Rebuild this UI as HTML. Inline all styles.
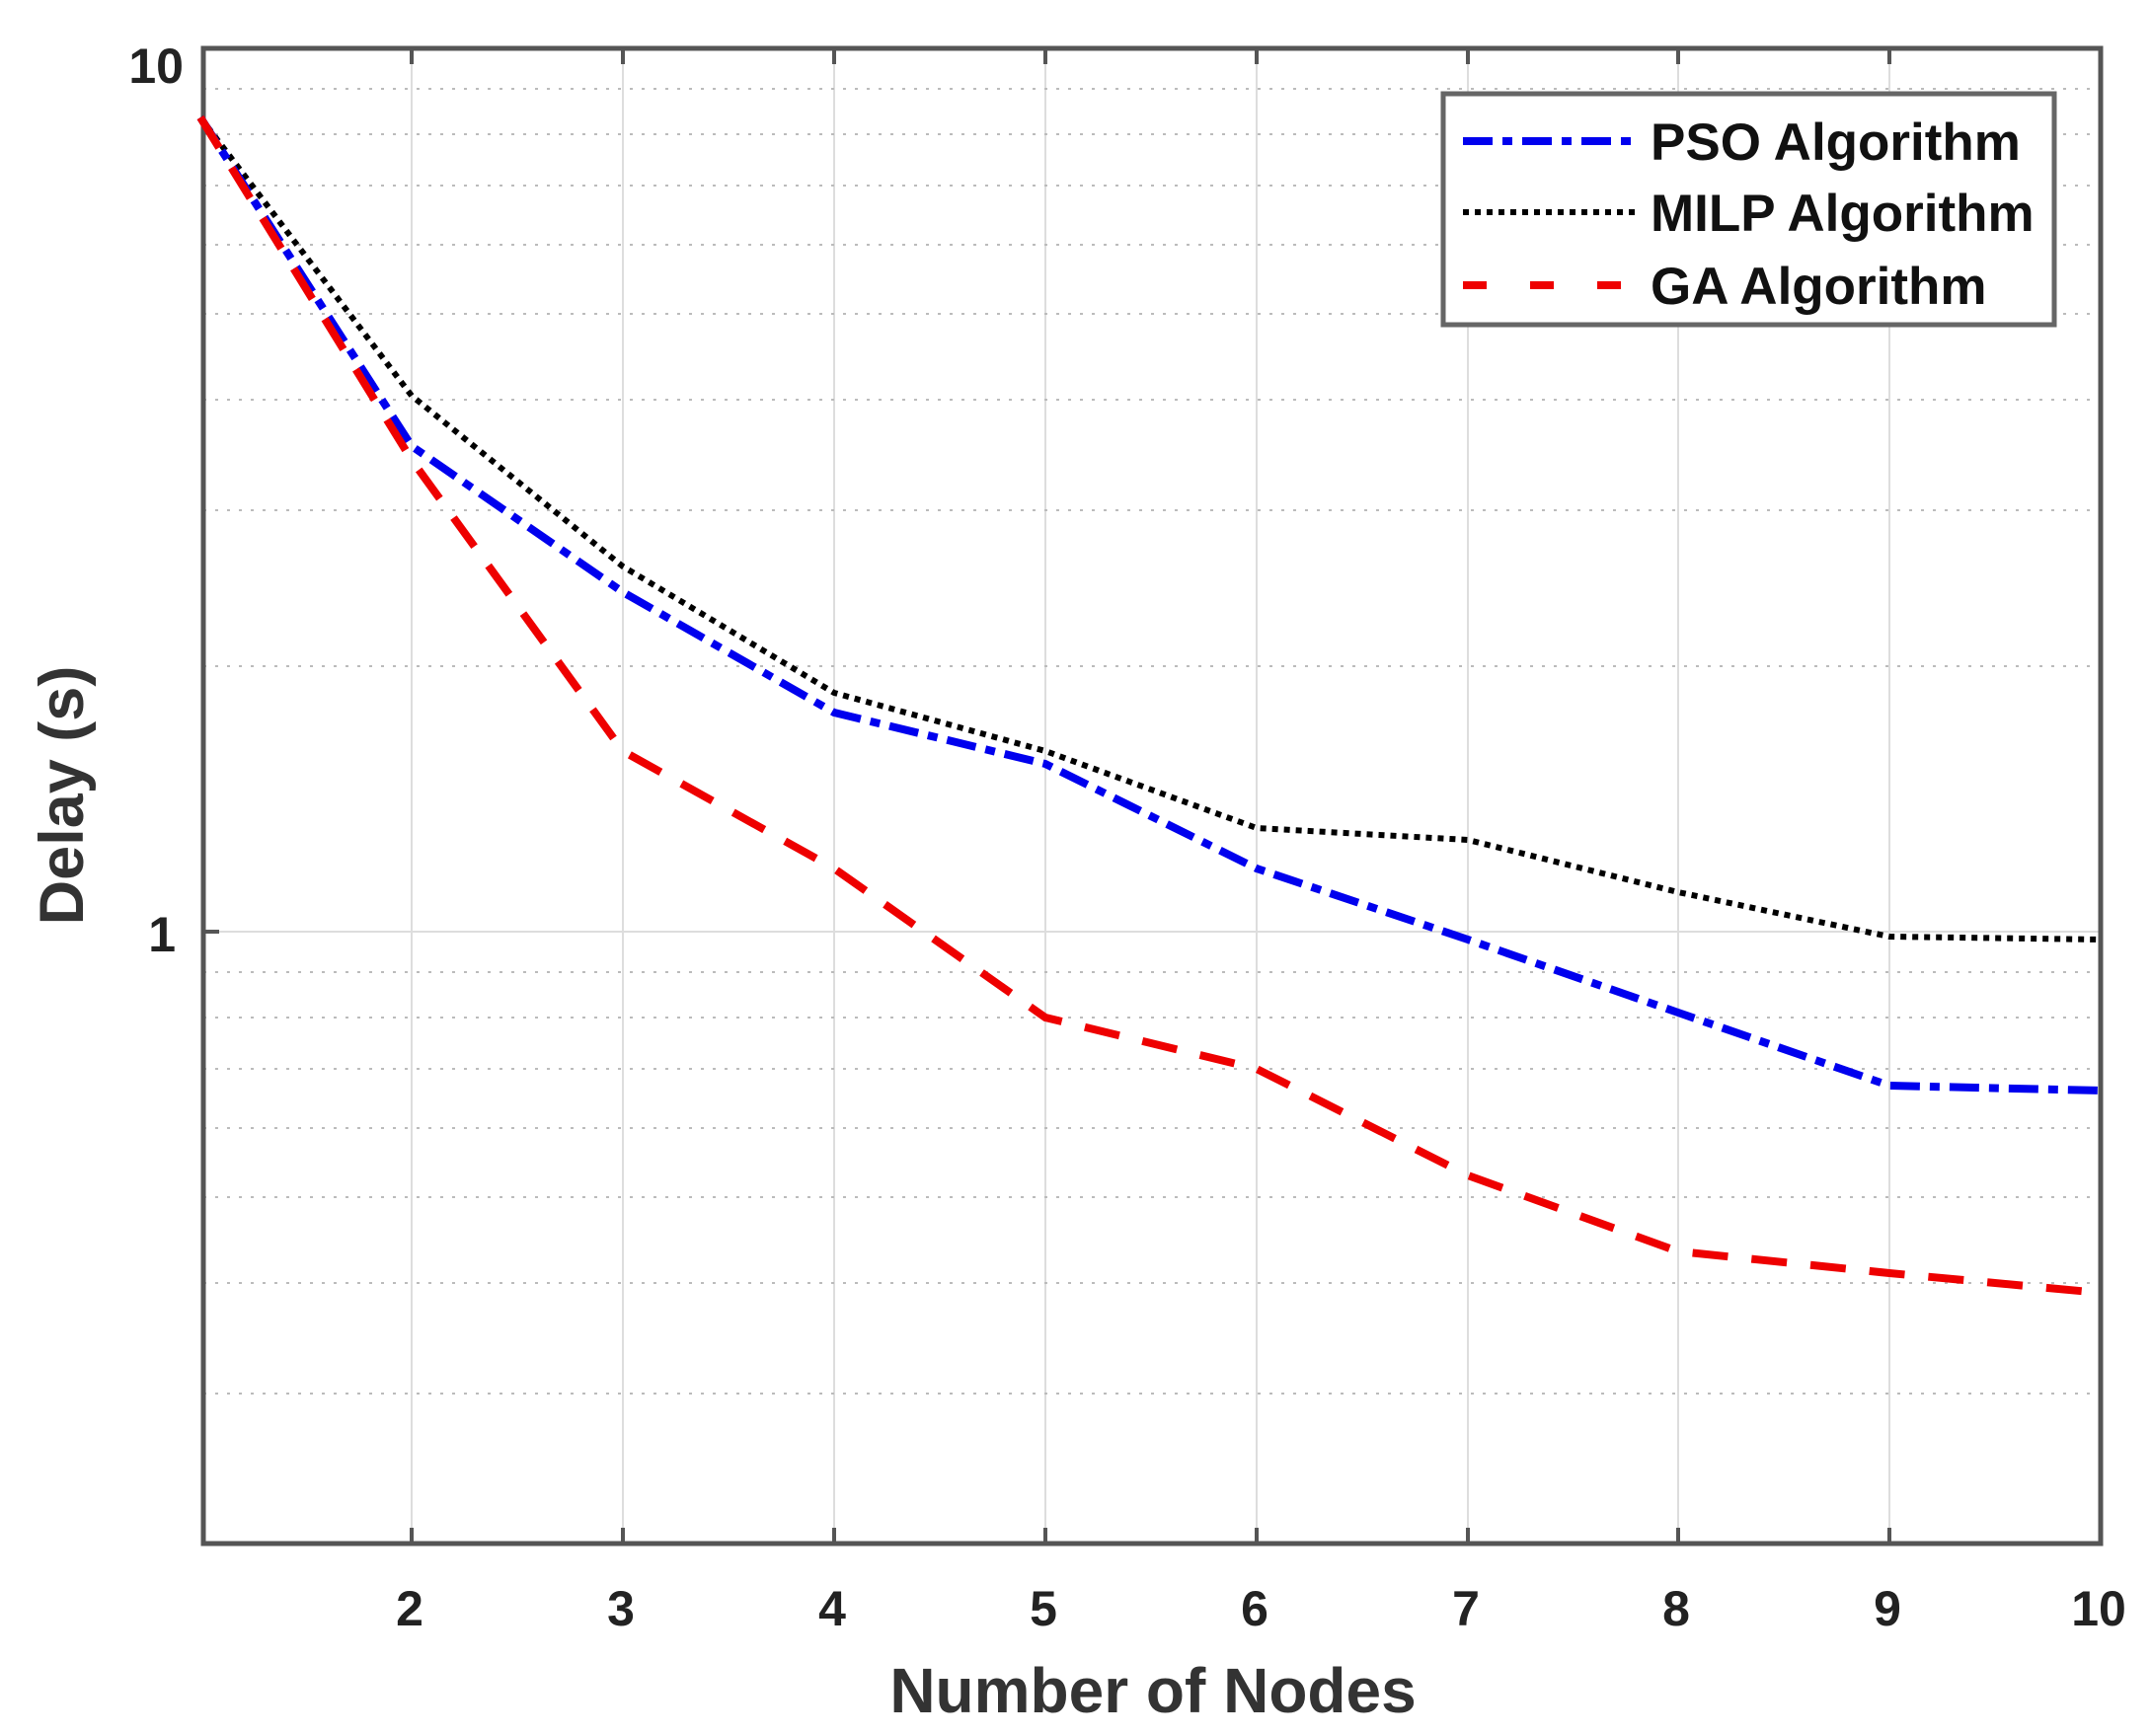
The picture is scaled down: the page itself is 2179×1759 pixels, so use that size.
<!DOCTYPE html>
<html><head><style>body{margin:0;background:#fff}svg{display:block}</style></head><body>
<svg width="2179" height="1759" viewBox="0 0 2179 1759" xmlns="http://www.w3.org/2000/svg" font-family="Liberation Sans, sans-serif" font-weight="bold">
<rect width="2179" height="1759" fill="#fff"/>
<g stroke="#ddd" stroke-width="2">
<line x1="417" y1="49" x2="417" y2="1564"/><line x1="631" y1="49" x2="631" y2="1564"/><line x1="845" y1="49" x2="845" y2="1564"/><line x1="1059" y1="49" x2="1059" y2="1564"/><line x1="1273" y1="49" x2="1273" y2="1564"/><line x1="1487" y1="49" x2="1487" y2="1564"/><line x1="1700" y1="49" x2="1700" y2="1564"/><line x1="1914" y1="49" x2="1914" y2="1564"/>
<line x1="206" y1="944" x2="2128" y2="944"/>
</g>
<g stroke="#bbb" stroke-width="2" stroke-dasharray="3 9">
<line x1="206" y1="90" x2="2128" y2="90"/><line x1="206" y1="136" x2="2128" y2="136"/><line x1="206" y1="188" x2="2128" y2="188"/><line x1="206" y1="248" x2="2128" y2="248"/><line x1="206" y1="318" x2="2128" y2="318"/><line x1="206" y1="405" x2="2128" y2="405"/><line x1="206" y1="517" x2="2128" y2="517"/><line x1="206" y1="675" x2="2128" y2="675"/>
<line x1="206" y1="985" x2="2128" y2="985"/><line x1="206" y1="1031" x2="2128" y2="1031"/><line x1="206" y1="1083" x2="2128" y2="1083"/><line x1="206" y1="1143" x2="2128" y2="1143"/><line x1="206" y1="1213" x2="2128" y2="1213"/><line x1="206" y1="1300" x2="2128" y2="1300"/><line x1="206" y1="1412" x2="2128" y2="1412"/>
</g>
<rect x="206" y="49" width="1922" height="1515" fill="none" stroke="#555" stroke-width="5"/>
<g stroke="#555" stroke-width="4">
<line x1="417" y1="1564" x2="417" y2="1548"/><line x1="631" y1="1564" x2="631" y2="1548"/><line x1="845" y1="1564" x2="845" y2="1548"/><line x1="1059" y1="1564" x2="1059" y2="1548"/><line x1="1273" y1="1564" x2="1273" y2="1548"/><line x1="1487" y1="1564" x2="1487" y2="1548"/><line x1="1700" y1="1564" x2="1700" y2="1548"/><line x1="1914" y1="1564" x2="1914" y2="1548"/>
<line x1="417" y1="49" x2="417" y2="65"/><line x1="631" y1="49" x2="631" y2="65"/><line x1="845" y1="49" x2="845" y2="65"/><line x1="1059" y1="49" x2="1059" y2="65"/><line x1="1273" y1="49" x2="1273" y2="65"/><line x1="1487" y1="49" x2="1487" y2="65"/><line x1="1700" y1="49" x2="1700" y2="65"/><line x1="1914" y1="49" x2="1914" y2="65"/>
<line x1="206" y1="944" x2="222" y2="944"/>
</g>
<polyline fill="none" stroke="#000" stroke-width="6" stroke-dasharray="6 6" points="203,119 417,401 631,574 845,702 1059,761 1273,839 1487,851 1700,904 1914,949 2128,952"/>
<polyline fill="none" stroke="#0000ee" stroke-width="8" stroke-dasharray="30 10 10 10" points="203,119 417,452 631,600 845,722 1059,774 1273,880 1487,952 1700,1026 1914,1100 2128,1105"/>
<polyline fill="none" stroke="#ee0000" stroke-width="8" stroke-dasharray="36 24" points="203,119 417,466 631,761 845,880 1059,1031 1273,1083 1487,1191 1700,1268 1914,1290 2128,1310"/>
<rect x="1462" y="95" width="619" height="234" fill="#fff" stroke="#666" stroke-width="5"/>
<line x1="1482" y1="143" x2="1658" y2="143" stroke="#0000ee" stroke-width="8" stroke-dasharray="30 10 10 10"/>
<line x1="1482" y1="215" x2="1658" y2="215" stroke="#000" stroke-width="6" stroke-dasharray="6 6"/>
<line x1="1482" y1="289" x2="1658" y2="289" stroke="#ee0000" stroke-width="8" stroke-dasharray="24 44"/>
<g font-size="53" fill="#111">
<text x="1672" y="162">PSO Algorithm</text>
<text x="1672" y="234">MILP Algorithm</text>
<text x="1672" y="308">GA Algorithm</text>
</g>
<g font-size="50" fill="#222" text-anchor="middle">
<text x="415" y="1647">2</text><text x="629" y="1647">3</text><text x="843" y="1647">4</text><text x="1057" y="1647">5</text><text x="1271" y="1647">6</text><text x="1485" y="1647">7</text><text x="1698" y="1647">8</text><text x="1912" y="1647">9</text><text x="2126" y="1647">10</text>
</g>
<g font-size="50" fill="#222" text-anchor="end">
<text x="186" y="84">10</text><text x="178" y="964">1</text>
</g>
<text x="1168" y="1735" font-size="64" fill="#333" text-anchor="middle">Number of Nodes</text>
<text transform="translate(84,806) rotate(-90)" font-size="63" fill="#333" text-anchor="middle">Delay (s)</text>
</svg>
</body></html>
